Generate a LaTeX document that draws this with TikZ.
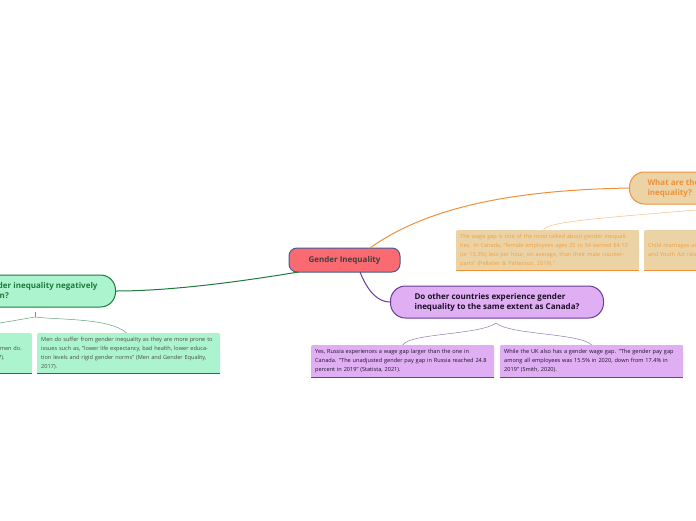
\documentclass[tikz,border=0pt]{standalone}
\usepackage{fontspec}
\setmainfont{Open Sans}
\usetikzlibrary{positioning, calc}
\definecolor{orfill}{HTML}{EBD3A6}
\definecolor{ordraw}{HTML}{F0913A}
\definecolor{ortext}{HTML}{F4A040}
\definecolor{grfill}{HTML}{ABF4CD}
\definecolor{grdraw}{HTML}{1F7A3C}
\definecolor{pufill}{HTML}{E0AEF2}
\definecolor{pudraw}{HTML}{6B3C9A}
\definecolor{rdfill}{HTML}{F96B70}
\definecolor{rddraw}{HTML}{3D5E99}
\begin{document}
\begin{tikzpicture}[x=1pt, y=-1pt,
    topic/.style={draw, rounded corners=15pt, line width=1pt, minimum height=32pt, align=left, font=\fontsize{8}{10}\selectfont\bfseries, inner xsep=18pt},
    leaf/.style={rounded corners=1pt, minimum height=40pt, text width=175pt, align=left, font=\fontsize{5.6}{9}\selectfont, inner xsep=4pt},
    link/.style={line width=1pt},
    twig/.style={line width=0.5pt}
]
    \useasboundingbox (0,0) rectangle (696,520);
    \clip (0,0) rectangle (696,520);
    \fill[white] (0,0) rectangle (696,520);

    \node[draw=rddraw, fill=rdfill, rounded corners=8pt, line width=1pt, minimum width=111pt, minimum height=24pt, font=\fontsize{8}{10}\selectfont\bfseries, text=black!75] (root) at (344.5,260) {Gender Inequality};

    % orange branch
    \node[topic, draw=ordraw, fill=orfill, text=ordraw, anchor=west] (why) at (629,188) {What are the examples of gender\\inequality?};
    \node[leaf, fill=orfill, text=ortext, anchor=north west] (wage) at (456,230) {The wage gap is one of the most talked about gender inequalities. In Canada, "female employees ages 25 to 54 earned \$4.13 (or 13.3\%) less per hour, on average, than their male counterparts" (Pelletier \& Patterson, 2019)."};
    \node[leaf, fill=orfill, text=ortext, anchor=north west] (child) at (644,230) {Child marriages are still common in many countries. The Children and Youth Act raised the legal age of marriage by 2019.};
    \draw[ordraw, line width=1.5pt] (wage.south west) -- (wage.south east);
    \draw[ordraw, line width=1.5pt] (child.south west) -- (child.south east);

    % green branch
    \node[topic, draw=grdraw, fill=grfill, text=grdraw, anchor=east] (men) at (116,291) {Does gender inequality negatively\\affect men?};
    \node[leaf, fill=grfill, text=black!70, anchor=north east] (menA) at (32,333) {Women suffer more often from gender inequality than men do. This is a common issue (Men and Gender Equality, 2017).};
    \node[leaf, fill=grfill, text=black!70, anchor=north west] (menB) at (37,333) {Men do suffer from gender inequality as they are more prone to issues such as, "lower life expectancy, bad health, lower education levels and rigid gender norms" (Men and Gender Equality, 2017).};
    \draw[grdraw, line width=1.5pt] (menA.south west) -- (menA.south east);
    \draw[grdraw, line width=1.5pt] (menB.south west) -- (menB.south east);

    % purple branch
    \node[topic, draw=pudraw, fill=pufill, text=black!75!pudraw, minimum width=213pt, anchor=west] (other) at (390,302) {Do other countries experience gender\\inequality to the same extent as Canada?};
    \node[leaf, fill=pufill, text=black!70!pudraw, minimum height=32pt, anchor=north west] (russia) at (311,345) {Yes, Russia experiences a wage gap larger than the one in Canada. "The unadjusted gender pay gap in Russia reached 24.8 percent in 2019" (Statista, 2021).};
    \node[leaf, fill=pufill, text=black!70!pudraw, minimum height=32pt, anchor=north west] (uk) at (500,345) {While the UK also has a gender wage gap. "The gender pay gap among all employees was 15.5\% in 2020, down from 17.4\% in 2019" (Smith, 2020).};
    \draw[pudraw, line width=1.5pt] (russia.south west) -- (russia.south east);
    \draw[pudraw, line width=1.5pt] (uk.south west) -- (uk.south east);

    % connectors
    \draw[link, ordraw] (370,248) .. controls (430,205) and (520,190) .. (why.west);
    \draw[link, grdraw] (root.west) ++(10,12) .. controls (220,285) and (160,291) .. (men.east);
    \draw[link, pudraw] (360,272) .. controls (368,292) and (378,302) .. (other.west);
    \draw[twig, ordraw!60] (wage.north) ++(-4,0) .. controls (545,222) and (600,218) .. (696,210);
    \draw[twig, grdraw!70] (menB.north) ++(-2,0) .. controls (110,318) and (60,320) .. (35,317) -- (0,323);
    \draw[twig, grdraw!70] (35,317) -- (35,312);
    \draw[twig, pudraw!70] (russia.north) .. controls (410,333) and (480,335) .. (496,323);
    \draw[twig, pudraw!70] (uk.north) .. controls (580,333) and (510,335) .. (496,323);
\end{tikzpicture}
\end{document}
